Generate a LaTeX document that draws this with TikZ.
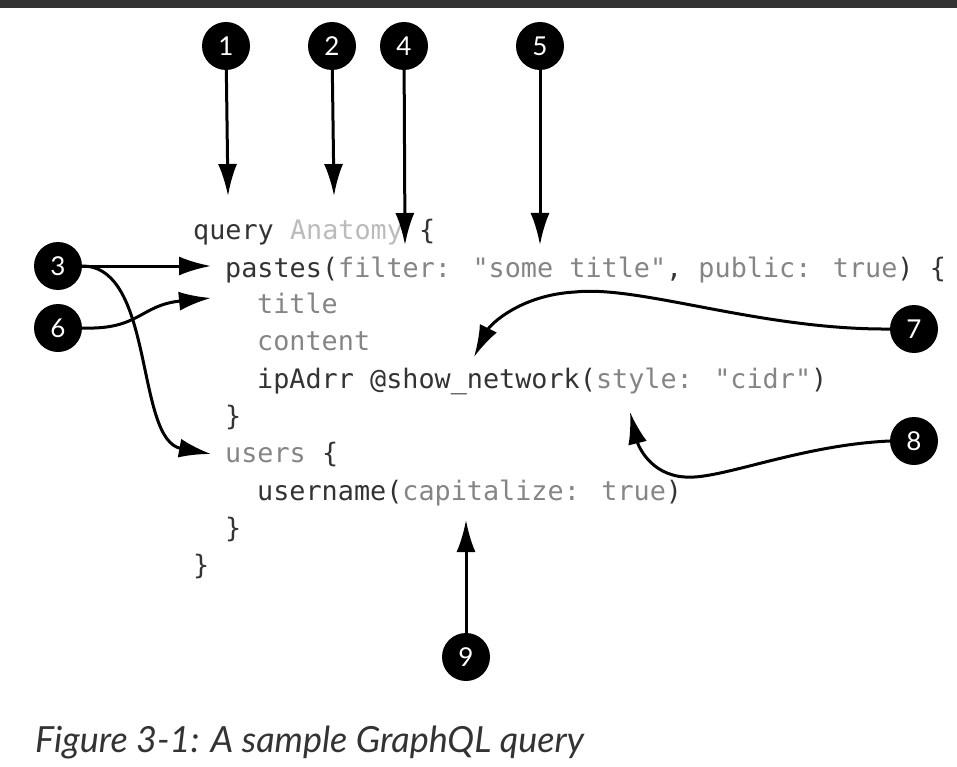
\documentclass[tikz,border=0pt]{standalone}
\usepackage{fontspec}
\setmainfont{Lato}
\newfontfamily\codef{DejaVu Sans Mono}
\usetikzlibrary{arrows.meta}
\definecolor{kw}{HTML}{333333}
\definecolor{arg}{HTML}{858585}
\definecolor{lite}{HTML}{BBBBBB}
\begin{document}
\begin{tikzpicture}[x=1pt,y=-1pt,
  num/.style={circle,fill=black,minimum size=48pt,inner sep=0pt,text=white,font=\fontsize{26}{26}\selectfont},
  code/.style={anchor=base west,inner sep=0pt,font=\codef\fontsize{26.8}{26.8}\selectfont,text=kw},
  arr/.style={line width=3pt,-{Latex[length=32pt,width=19pt]}}]
\useasboundingbox (0,0) rectangle (957,767);
\fill[kw] (0,0) rectangle (957,8);
\node[code] (l1) at (193,240) {query \textcolor{lite}{Anatomy} \{};
\node[code] (l2) at (225,277) {pastes(\textcolor{arg}{filter: "some title"}, \textcolor{arg}{public: true}) \{};
\node[code] (l3) at (257,313) {\textcolor{arg}{title}};
\node[code] (l4) at (257,350) {\textcolor{arg}{content}};
\node[code] (l5) at (257,388) {ipAdrr @show\_network(\textcolor{arg}{style: "cidr"})};
\node[code] (l6) at (225,425) {\}};
\node[code] (l7) at (225,462) {\textcolor{arg}{users} \{};
\node[code] (l8) at (257,500) {username(\textcolor{arg}{capitalize: true})};
\node[code] (l9) at (225,537) {\}};
\node[code] (l10) at (193,574) {\}};
\node[num] (n1) at (226,46) {1};
\node[num] (n2) at (332,46) {2};
\node[num] (n4) at (404,46) {4};
\node[num] (n5) at (540,46) {5};
\node[num] (n3) at (58,266) {3};
\node[num] (n6) at (58,328) {6};
\node[num] (n7) at (914,329) {7};
\node[num] (n8) at (914,441) {8};
\node[num] (n9) at (466,657) {9};
\coordinate (t1) at (228,196);
\coordinate (t2) at (334,196);
\coordinate (t4) at (405,245);
\coordinate (t5) at (540,245);
\coordinate (t3a) at (211,266);
\coordinate (t3b) at (211,454);
\coordinate (t6) at (211,298);
\coordinate (t7) at (474,357);
\coordinate (t8) at (630,412);
\coordinate (t9) at (466,520);
\draw[arr] (n1) -- (t1);
\draw[arr] (n2) -- (t2);
\draw[arr] (n4) -- (t4);
\draw[arr] (n5) -- (t5);
\draw[arr] (n3) -- (t3a);
\draw[arr] (n3.east) .. controls (155,266) and (135,440) .. (t3b);
\draw[arr] (n6.east) .. controls (140,330) and (140,305) .. (t6);
\draw[arr] (n7.west) .. controls (760,330) and (640,285) .. (575,292) .. controls (520,295) and (490,325) .. (t7);
\draw[arr] (n8.west) .. controls (800,445) and (720,480) .. (685,477) .. controls (650,475) and (638,445) .. (t8);
\draw[arr] (n9) -- (t9);
\node[anchor=base west,inner sep=0pt,font=\fontsize{36}{36}\selectfont\itshape,text=kw] (cap) at (35,752) {Figure 3-1: A sample GraphQL query};
\end{tikzpicture}
\end{document}
